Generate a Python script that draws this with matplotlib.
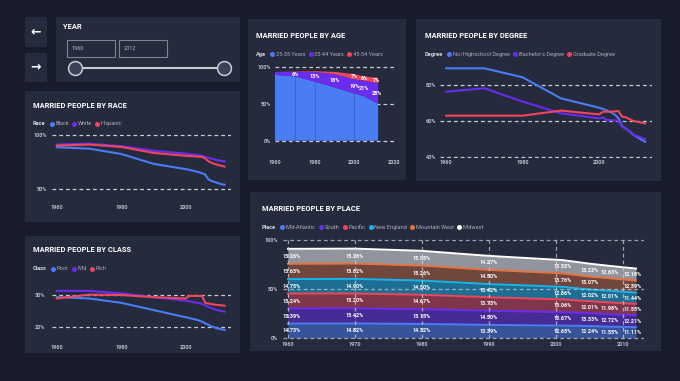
import numpy as np
import matplotlib
matplotlib.use("Agg")
import matplotlib.pyplot as plt
from matplotlib.patches import Rectangle
from matplotlib.lines import Line2D

W, H = 680, 381
plt.rcParams['font.family'] = ['Roboto', 'DejaVu Sans']

BG = '#171b2c'
PANEL = '#252a3c'
GRID = '#c8cbd4'
TICK = '#b9bdc9'
LEGTXT = '#a9adba'
BLUE = '#4a7cf6'
PURPLE = '#6a2cee'
RED = '#f0465c'
CYAN = '#17b3e9'
ORANGE = '#e4733f'
WHITE = '#ffffff'

# ---- data ----
line_years = [1960, 1970, 1980, 1990, 2000, 2001, 2002, 2003, 2004, 2005,
              2006, 2007, 2008, 2009, 2010, 2011, 2012]

race_labels = ['Black', 'White', 'Hispanic']
race_black = [89, 87.7, 82.7, 73.5, 68.5, 68, 67.2, 66.5, 65.7, 64.8,
              63.5, 59, 57.5, 56.5, 55.5, 54.5, 54]
race_white = [91.5, 92.4, 90, 85.8, 83, 82.7, 82.3, 82, 81.6, 81,
              80, 79, 78.3, 77.5, 76.8, 76.2, 75.8]
race_hispanic = [90.5, 91.5, 89.3, 83.7, 81, 80.8, 80.6, 80.4, 80.2, 80,
                 78.5, 75.8, 74.5, 73.3, 72.5, 71.7, 71]

class_labels = ['Poor', 'Mid', 'Rich']
class_poor = [29.4, 29.0, 27.6, 25.3, 23.0, 22.8, 22.5, 22.3, 22.0, 21.6,
              21.1, 20.6, 20.1, 19.7, 19.4, 19.2, 19.0]
class_mid = [31.4, 31.4, 30.6, 29.4, 28.3, 28.1, 27.9, 27.7, 27.5, 27.2,
             26.8, 26.3, 25.9, 25.5, 25.2, 25.0, 24.8]
class_rich = [29.0, 30.2, 30.1, 29.4, 29.0, 29.8, 29.8, 29.8, 29.8, 29.8,
              27.6, 27.4, 27.2, 27.0, 26.9, 26.8, 26.7]

degree_labels = ['No/Highschool Degree', "Bachelor's Degree", 'Graduate Degree']
degree_nohs = [89.1, 89.1, 84.1, 72.4, 67.2, 66.5, 65.7, 64.8, 63.5, 61.5,
               57, 55.5, 54, 52, 50.8, 49.5, 48.3]
degree_bach = [76.1, 78, 70.6, 64.1, 61.3, 61.8, 60.4, 60.3, 60.2, 60,
               56.7, 55.5, 53.9, 52, 51.5, 50.6, 49.8]
degree_grad = [62.8, 62.8, 62.8, 65.6, 63.5, 65, 65, 65, 65.2, 65.4,
               62.2, 61.9, 60.8, 59.8, 59.4, 59, 58.5]

age_labels = ['25-35 Years', '35-44 Years', '45-54 Years']
age_years = [1960, 1970, 1980, 1990, 2000, 2005, 2012]
age_25_35 = [89, 87, 80, 72, 64, 60, 50]
age_35_44 = [4, 6, 13, 18, 19, 21, 28]
age_45_54 = [0, 0.5, 1, 3, 7, 6, 7]

place_labels = ['Mid-Atlantic', 'South', 'Pacific', 'New England', 'Mountain West', 'Midwest']
place_years = [1960, 1970, 1980, 1990, 2001, 2005, 2008, 2012]
place_midatl = [14.73, 14.82, 14.32, 13.39, 12.65, 12.24, 11.55, 11.11]
place_south = [15.39, 15.42, 15.15, 14.50, 13.67, 13.33, 12.72, 12.21]
place_pacific = [15.24, 15.20, 14.67, 13.73, 13.06, 12.01, 11.98, 11.55]
place_newengland = [14.75, 14.90, 14.50, 13.42, 12.86, 12.02, 12.01, 11.44]
place_mountain = [15.63, 15.62, 15.26, 14.50, 13.76, 13.07, 12.75, 12.39]
place_midwest = [15.26, 15.26, 15.05, 14.27, 13.53, 13.23, 12.63, 12.18]

fig = plt.figure(figsize=(6.8, 3.81), dpi=100)
fig.patch.set_facecolor(BG)
renderer = fig.canvas.get_renderer()


def fx(x):
    return x / W


def fy(y):
    return 1 - y / H


def panel(x0, y0, x1, y1):
    fig.patches.append(Rectangle((fx(x0), fy(y1)), (x1 - x0) / W, (y1 - y0) / H,
                                 transform=fig.transFigure, facecolor=PANEL,
                                 edgecolor='none', zorder=-5))


def title(x, y, s):
    fig.text(fx(x), fy(y), s, color=WHITE, fontsize=5.4, fontweight='bold',
             ha='left', va='center')


def legend(x, y, name, labels, colors):
    t = fig.text(fx(x), fy(y), name, color='#d4d6de', fontsize=4.1,
                 fontweight='bold', ha='left', va='center')
    end = t.get_window_extent(renderer).x1
    for lab, c in zip(labels, colors):
        cx = end + 6
        fig.add_artist(Line2D([fx(cx)], [fy(y)], marker='o', ms=3.6, color=c,
                              mec='none', transform=fig.transFigure))
        t = fig.text(fx(cx + 3.4), fy(y), lab, color=LEGTXT, fontsize=4.1,
                     ha='left', va='center')
        end = t.get_window_extent(renderer).x1 - 0.5


def axes_at(x0, y0, x1, y1):
    ax = fig.add_axes([fx(x0), fy(y1), (x1 - x0) / W, (y1 - y0) / H])
    ax.set_facecolor('none')
    for s in ax.spines.values():
        s.set_visible(False)
    ax.tick_params(length=0, labelcolor=TICK)
    return ax


def ticks(ax, xt, xl, yt, yl, xpad, ypad):
    ax.set_xticks(xt, labels=xl, fontsize=4, fontweight='bold')
    ax.set_yticks(yt, labels=yl, fontsize=4, fontweight='bold')
    ax.tick_params(axis='x', pad=xpad)
    ax.tick_params(axis='y', pad=ypad)


def hgrid(ax, values, z=1, alpha=1.0):
    for v in values:
        ax.axhline(v, color=GRID, lw=0.9, ls=(0, (3, 2.4)), zorder=z, alpha=alpha)


# ---- panels ----
panel(25, 17, 47, 47)
panel(25, 53, 47, 82)
panel(56, 17, 240, 82)
panel(25, 91, 240, 222)
panel(25, 236, 240, 353)
panel(248, 19, 406, 180)
panel(416, 19, 661, 181)
panel(250, 192, 661, 351)

# ---- navigation + year slicer ----
fig.text(fx(36), fy(31.5), '\u2190', color=WHITE, fontsize=9, fontweight='bold',
         ha='center', va='center', family='DejaVu Sans')
fig.text(fx(36), fy(67), '\u2192', color=WHITE, fontsize=9, fontweight='bold',
         ha='center', va='center', family='DejaVu Sans')
title(63, 27, 'YEAR')
for bx, s in [(67, '1960'), (119, '2012')]:
    fig.patches.append(Rectangle((fx(bx), fy(57)), 48 / W, 17 / H,
                                 transform=fig.transFigure, facecolor='none',
                                 edgecolor='#80848f', lw=0.8, zorder=2))
    fig.text(fx(bx + 5), fy(48.5), s, color='#b8bbc6', fontsize=4, ha='left', va='center')
fig.add_artist(Line2D([fx(75), fx(224)], [fy(68), fy(68)], color='#c9ccd3', lw=1.5,
                      transform=fig.transFigure))
fig.add_artist(Line2D([fx(75), fx(224)], [fy(68), fy(68)], ls='none', marker='o', ms=10,
                      mfc='#3a4158', mec='#c9ccd3', mew=1.1, transform=fig.transFigure))

# ---- race ----
title(33, 106, 'MARRIED PEOPLE BY RACE')
legend(33, 123.5, 'Race', race_labels, [BLUE, PURPLE, RED])
ax = axes_at(52, 130, 231, 195)
ax.set_xlim(1958.5, 2014.0)
ax.set_ylim(44.4, 105.1)
hgrid(ax, [50, 100])
for vals, c in zip([race_black, race_white, race_hispanic], [BLUE, PURPLE, RED]):
    ax.plot(line_years, vals, color=c, lw=1.5, solid_joinstyle='round', zorder=3)
ticks(ax, [1960, 1980, 2000], ['1960', '1980', '2000'], [50, 100], ['50%', '100%'], 7, 3.6)

# ---- class ----
title(33, 250, 'MARRIED PEOPLE BY CLASS')
legend(33, 268.5, 'Class', class_labels, [BLUE, PURPLE, RED])
ax = axes_at(52, 285, 231, 335)
ax.set_xlim(1958.5, 2014.0)
ax.set_ylim(17.36, 33.28)
hgrid(ax, [20, 30])
for vals, c in zip([class_poor, class_mid, class_rich], [BLUE, PURPLE, RED]):
    ax.plot(line_years, vals, color=c, lw=1.5, solid_joinstyle='round', zorder=3)
ticks(ax, [1960, 1980, 2000], ['1960', '1980', '2000'], [20, 30], ['20%', '30%'], 7, 5)

# ---- age ----
title(256, 36.5, 'MARRIED PEOPLE BY AGE')
legend(256, 54.3, 'Age', age_labels, [BLUE, PURPLE, RED])
ax = axes_at(275, 62, 394, 145)
ax.set_xlim(1960, 2020)
ax.set_ylim(-5.8, 106.4)
hgrid(ax, [50, 100], z=0)
ax.stackplot(age_years, age_25_35, age_35_44, age_45_54,
             colors=[BLUE, PURPLE, RED], lw=0, zorder=2)
for i, yr in enumerate(age_years):
    if yr in (1970, 1980, 2000):
        ax.vlines(yr, 0, age_25_35[i], color='#3a63c8', lw=0.6, zorder=3)
hgrid(ax, [0], z=4)
for i, yr in enumerate(age_years):
    xs = yr - 0.8 if yr == 2012 else yr
    if yr >= 1970:
        ax.text(xs, age_25_35[i] + age_35_44[i] / 2, f'{age_35_44[i]:.0f}%', color=WHITE,
                fontsize=4, fontweight='bold', ha='center', va='center', zorder=5)
    if yr >= 2000:
        ax.text(xs, age_25_35[i] + age_35_44[i] + age_45_54[i] / 2, f'{age_45_54[i]:.0f}%',
                color=WHITE, fontsize=4, fontweight='bold', ha='center', va='center', zorder=5)
ticks(ax, [1960, 1980, 2000, 2020], ['1960', '1980', '2000', '2020'],
      [0, 50, 100], ['0%', '50%', '100%'], 10.7, 3)

# ---- degree ----
title(425, 36.5, 'MARRIED PEOPLE BY DEGREE')
legend(425, 54.3, 'Degree', degree_labels, [BLUE, PURPLE, RED])
ax = axes_at(440, 62, 652, 158)
ax.set_xlim(1958.4, 2013.8)
ax.set_ylim(39.28, 92.6)
hgrid(ax, [40, 60, 80])
for vals, c in zip([degree_nohs, degree_bach, degree_grad], [BLUE, PURPLE, RED]):
    ax.plot(line_years, vals, color=c, lw=1.5, solid_joinstyle='round', zorder=3)
ticks(ax, [1960, 1980, 2000], ['1960', '1980', '2000'], [40, 60, 80],
      ['40%', '60%', '80%'], 1.3, 3)

# ---- place ----
title(262, 209, 'MARRIED PEOPLE BY PLACE')
place_colors = [BLUE, PURPLE, RED, CYAN, ORANGE, WHITE]
place_alpha = [0.5, 0.5, 0.45, 0.5, 0.4, 0.5]
legend(262, 227.3, 'Place', place_labels, place_colors)
ax = axes_at(283, 236, 644, 340)
ax.set_xlim(1959.26, 2013.2)
ax.set_ylim(-2.05, 104.1)
series = [place_midatl, place_south, place_pacific, place_newengland, place_mountain, place_midwest]
base = np.zeros(len(place_years))
for vals, c, a, name in zip(series, place_colors, place_alpha, place_labels):
    top = base + np.array(vals)
    ax.fill_between(place_years, base, top, color=c, alpha=a, lw=0, zorder=2)
    ax.plot(place_years, top, color=c, lw=1.4, zorder=3)
    for i, yr in enumerate(place_years):
        if name == 'Mountain West' and yr == 2008:
            continue
        xs = yr + 0.6 if yr == 1960 else (yr - 0.5 if yr == 2012 else yr)
        ax.text(xs, base[i] + vals[i] / 2, f'{vals[i]:.2f}%', color=WHITE, fontsize=3.9,
                fontweight='bold', ha='center', va='center', zorder=5)
    base = top
hgrid(ax, [0, 50, 100], z=4, alpha=0.75)
for yr in [1960, 1970, 1980, 1990, 2000, 2010]:
    ax.vlines(yr, 0, 100, color=GRID, lw=0.9, ls=(0, (3, 2.4)), zorder=4, alpha=0.75)
ticks(ax, [1960, 1970, 1980, 1990, 2000, 2010],
      ['1960', '1970', '1980', '1990', '2000', '2010'],
      [0, 50, 100], ['0%', '50%', '100%'], 1.3, 3.6)

fig.savefig('out.png', dpi=100, facecolor=BG)
